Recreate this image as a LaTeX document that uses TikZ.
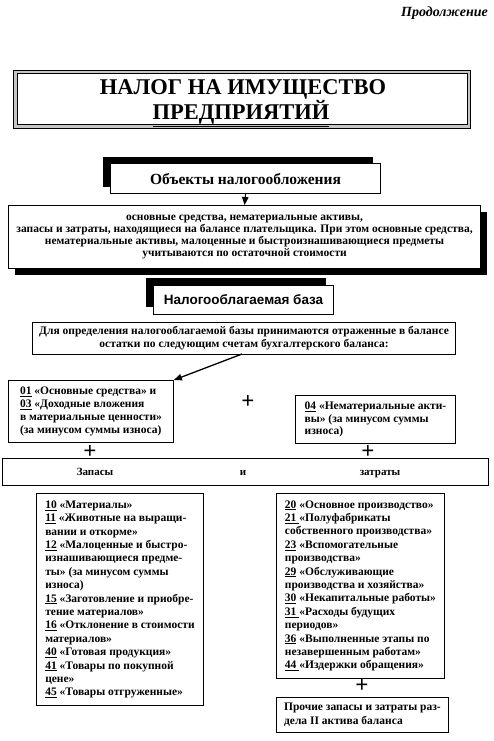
\documentclass[tikz,border=0pt]{standalone}
\usepackage{fontspec}
\setmainfont{Liberation Serif}
\newfontfamily\sansfont{Liberation Sans}
\usetikzlibrary{arrows.meta}
\begin{document}
\begin{tikzpicture}[x=1pt,y=-1pt,
  box/.style={draw, line width=0.9pt, fill=white, inner sep=0pt, anchor=north west},
  shadowbox/.style={fill=black, draw=none, inner sep=0pt, anchor=north west},
  listbox/.style={box, align=left, inner xsep=7pt, font=\bfseries\fontsize{11.5}{13.4}\selectfont},
  barlabel/.style={font=\bfseries\fontsize{11}{13}\selectfont, inner sep=0pt, anchor=base},
  plus/.style={font=\bfseries\fontsize{23}{23}\selectfont, inner sep=0pt},
  arr/.style={line width=1.3pt, -{Triangle[length=8pt,width=6.5pt]}}]
\useasboundingbox (0,0) rectangle (494,741);

% continuation label
\node[anchor=base east, inner sep=0pt, font=\itshape\bfseries\fontsize{14}{16}\selectfont] (cont) at (488,17) {Продолжение};

% title
\node[box, line width=1pt, fill=gray!45, minimum width=457pt, minimum height=58pt] (titleframe) at (13,70) {};
\node[box, line width=0.8pt, minimum width=450pt, minimum height=51pt] (titlebox) at (16.5,73.5) {};
\node[anchor=base, inner sep=0pt, font=\bfseries\fontsize{22.5}{25}\selectfont] (title1) at (243,95) {НАЛОГ НА ИМУЩЕСТВО};
\node[anchor=base, inner sep=0pt, font=\bfseries\fontsize{22.5}{25}\selectfont] (title2) at (241,120) {\underline{ПРЕДПРИЯТИЙ}};

% objects of taxation
\node[shadowbox, minimum width=270pt, minimum height=30pt] (objshadow) at (103,157) {};
\node[box, line width=1.1pt, minimum width=270pt, minimum height=30pt, font=\bfseries\fontsize{15.5}{17}\selectfont] (obj) at (110,163) {Объекты налогообложения};

% description
\node[shadowbox, minimum width=472pt, minimum height=63pt] (descshadow) at (15,212) {};
\node[box, line width=1.1pt, minimum width=472pt, minimum height=63pt, align=center, font=\bfseries\fontsize{11.5}{11.8}\selectfont] (desc) at (8,205) {основные средства, нематериальные активы,\\
запасы и затраты, находящиеся на балансе плательщика. При этом основные средства,\\
нематериальные активы, малоценные и быстроизнашивающиеся предметы\\
учитываются по остаточной стоимости};
\draw[arr, line width=1pt] (obj.south) -- (desc.north);

% tax base
\node[shadowbox, minimum width=180pt, minimum height=29pt] (baseshadow) at (146,278) {};
\node[box, line width=1.1pt, minimum width=180pt, minimum height=29pt, font=\sansfont\bfseries\fontsize{13.5}{15}\selectfont] (base) at (153,285) {Налогооблагаемая база};

% definition
\node[box, line width=1.2pt, minimum width=423pt, minimum height=32pt, align=center, font=\bfseries\fontsize{11.5}{13}\selectfont] (defn) at (32,322) {Для определения налогооблагаемой базы принимаются отраженные в балансе\\
остатки по следующим счетам бухгалтерского баланса:};

% accounts 01 / 03
\node[box, minimum width=165pt, minimum height=62pt, align=left, inner xsep=4pt, font=\bfseries\fontsize{11.5}{12.7}\selectfont] (acc01) at (8,380) {\underline{01} «Основные средства» и\\
\underline{03} «Доходные вложения\\
в материальные ценности»\\
(за минусом суммы износа)};
\draw[arr] (242,354) -- (acc01.north east);

% account 04
\node[box, minimum width=160pt, minimum height=48pt, align=left, inner xsep=7pt, font=\bfseries\fontsize{11.5}{12.7}\selectfont] (acc04) at (295,395) {\underline{04} «Нематериальные акти-\\
вы» (за минусом суммы\\
износа)};

\node[plus] (plusA) at (248,402) {+};
\node[plus] (plusB) at (90,452) {+};
\node[plus] (plusC) at (368,452) {+};

% stocks and costs bar
\node[box, minimum width=486pt, minimum height=27pt] (bar) at (2,458) {};
\node[barlabel] (barA) at (95,475) {Запасы};
\node[barlabel] (barB) at (243,475) {и};
\node[barlabel] (barC) at (380,475) {затраты};

% left list
\node[listbox, minimum width=167pt, minimum height=212pt] (left) at (36,493) {\underline{10} «Материалы»\\
\underline{11} «Животные на выращи-\\
вании и откорме»\\
\underline{12} «Малоценные и быстро-\\
изнашивающиеся предме-\\
ты» (за минусом суммы\\
износа)\\
\underline{15} «Заготовление и приобре-\\
тение материалов»\\
\underline{16} «Отклонение в стоимости\\
материалов»\\
\underline{40} «Готовая продукция»\\
\underline{41} «Товары по покупной\\
цене»\\
\underline{45} «Товары отгруженные»};

% right list
\node[listbox, minimum width=168pt, minimum height=185pt] (right) at (276,493) {\underline{20} «Основное производство»\\
\underline{21\ }«Полуфабрикаты\\
собственного производства»\\
\underline{23} «Вспомогательные\\
производства»\\
\underline{29} «Обслуживающие\\
производства и хозяйства»\\
\underline{30} «Некапитальные работы»\\
\underline{31\ }«Расходы будущих\\
периодов»\\
\underline{36} «Выполненные этапы по\\
незавершенным работам»\\
\underline{44\ }«Издержки обращения»};

\node[plus] (plusD) at (362,686) {+};

\node[box, minimum width=172pt, minimum height=35pt, align=left, inner xsep=7pt, font=\bfseries\fontsize{11.5}{13.5}\selectfont] (other) at (276,697) {Прочие запасы и затраты раз-\\
дела II актива баланса};
\end{tikzpicture}
\end{document}
